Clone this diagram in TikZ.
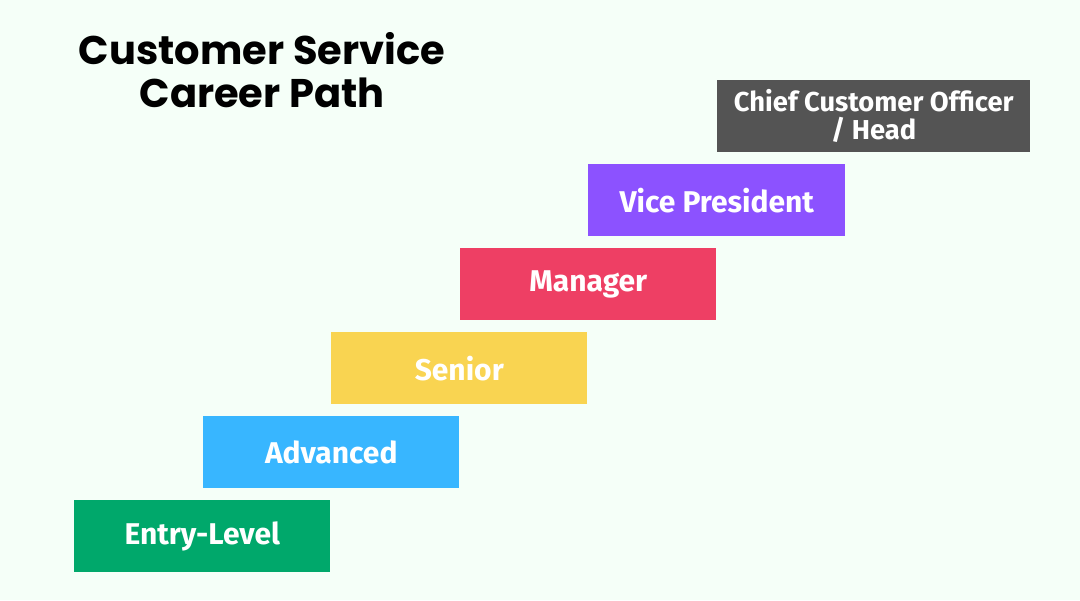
\documentclass[tikz,border=0pt]{standalone}
\usepackage{fontspec}
\setmainfont{Fira Sans}
\newfontfamily\titlefont{Poppins}
\definecolor{bg}{RGB}{245,255,248}
\definecolor{cgreen}{RGB}{0,168,107}
\definecolor{cblue}{RGB}{56,182,255}
\definecolor{cyellow}{RGB}{249,212,81}
\definecolor{cred}{RGB}{238,63,100}
\definecolor{cpurple}{RGB}{140,82,255}
\definecolor{cgrey}{RGB}{84,84,84}
\begin{document}
\begin{tikzpicture}[x=0.75pt,y=-0.75pt,
  stepbox/.style={minimum width=192pt,minimum height=54pt,inner sep=0pt,text=white,font=\fontsize{22.5}{27}\selectfont\bfseries,anchor=north west,align=center}]
\fill[bg] (0,0) rectangle (1080,600);
\useasboundingbox (0,0) rectangle (1080,600);
\node[font=\titlefont\fontsize{30}{32}\selectfont\bfseries,align=center] (title) at (262,70) {Customer Service\\Career Path};
\node[stepbox,fill=cgreen] (e) at (74,500) {Entry-Level};
\node[stepbox,fill=cblue] (a) at (203,416) {Advanced};
\node[stepbox,fill=cyellow] (s) at (331,332) {Senior};
\node[stepbox,fill=cred] (m) at (460,248) {Manager};
\node[stepbox,fill=cpurple,minimum width=192.75pt] (v) at (588,164) {Vice President};
\node[stepbox,fill=cgrey,minimum width=234.75pt,font=\fontsize{20.5}{21}\selectfont\bfseries] (c) at (717,80) {Chief Customer Officer\\/ Head};
\end{tikzpicture}
\end{document}
